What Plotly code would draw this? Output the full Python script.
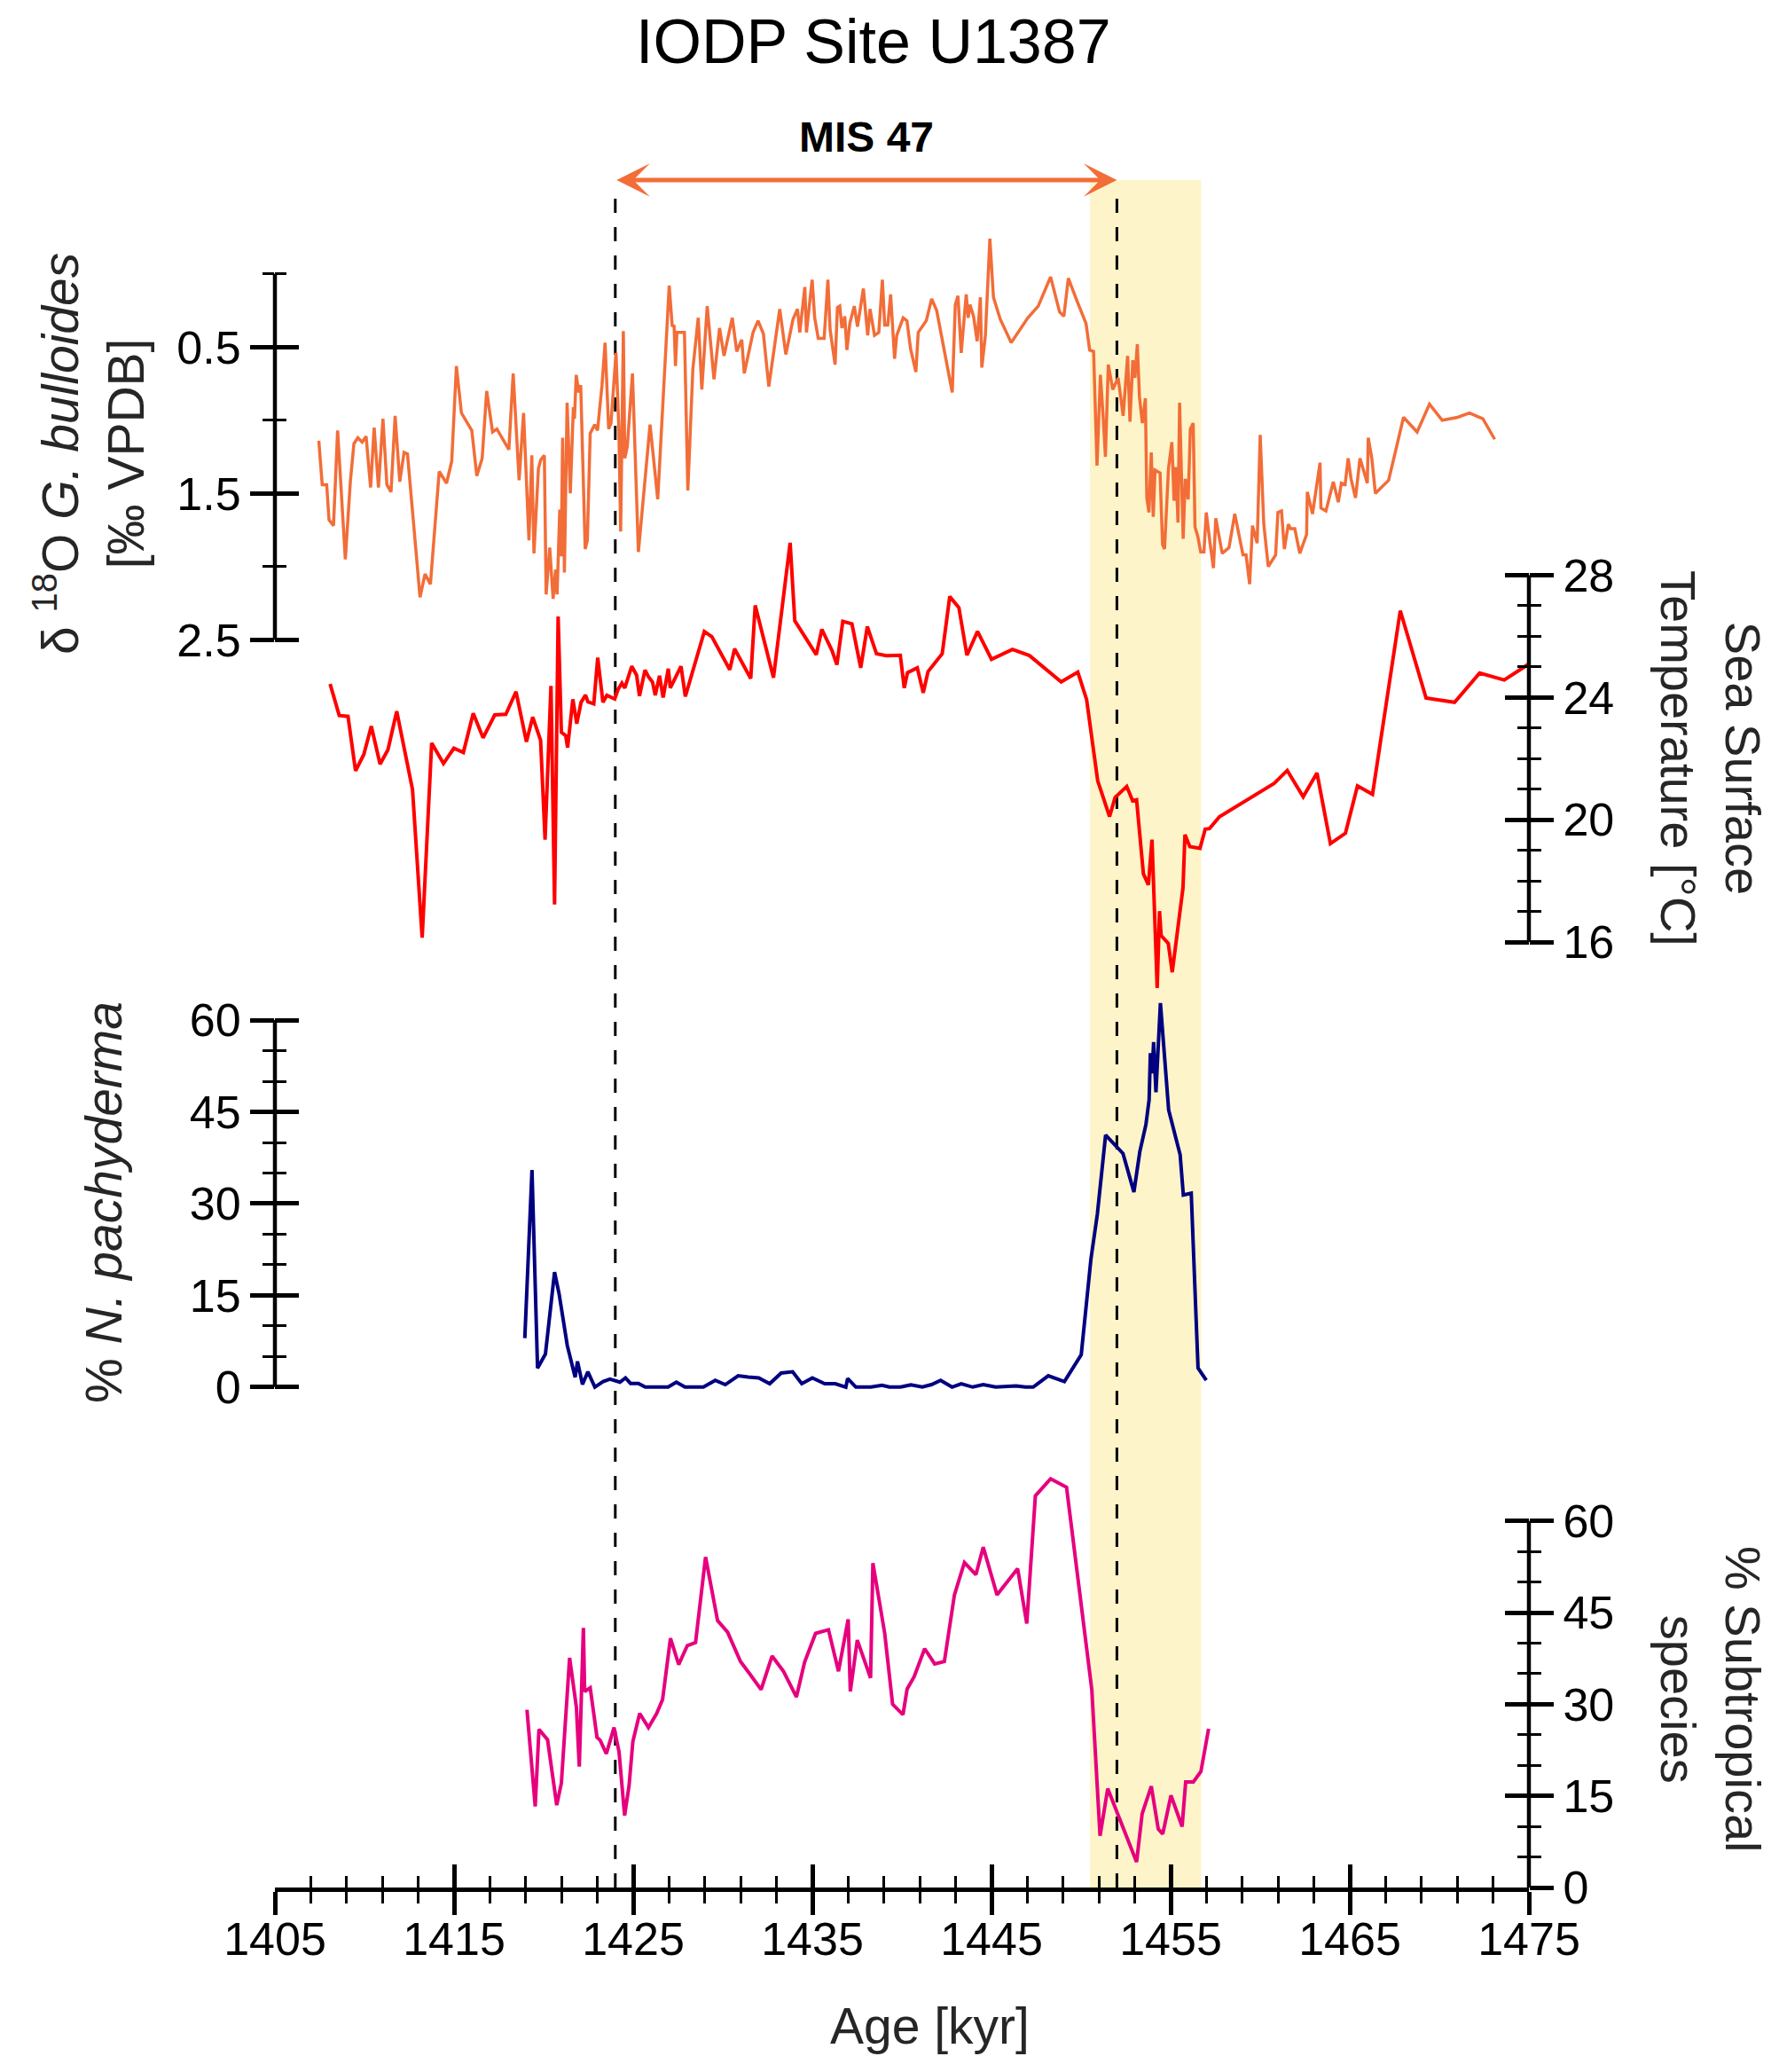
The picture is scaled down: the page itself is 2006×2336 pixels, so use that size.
import plotly.graph_objects as go

# ---- data ----
d18o_age = [1407.45, 1407.64, 1407.89, 1408.02, 1408.27, 1408.50, 1408.93, 1409.21, 1409.41, 1409.63,
            1409.87, 1410.09, 1410.34, 1410.54, 1410.78, 1411.03, 1411.25, 1411.48, 1411.71, 1411.97,
            1412.21, 1412.40, 1413.10, 1413.38, 1413.68, 1414.17, 1414.58, 1414.87, 1415.13, 1415.41,
            1415.99, 1416.27, 1416.57, 1416.82, 1417.15, 1417.39, 1418.06, 1418.30, 1418.63, 1418.88,
            1419.18, 1419.34, 1419.46, 1419.71, 1419.84, 1420.04, 1420.14, 1420.34, 1420.53, 1420.67,
            1420.75, 1420.90, 1420.98, 1421.06, 1421.16, 1421.31, 1421.49, 1421.66, 1421.72, 1421.82,
            1421.96, 1422.07, 1422.32, 1422.44, 1422.60, 1422.85, 1423.01, 1423.26, 1423.43, 1423.63,
            1423.76, 1424.04, 1424.20, 1424.30, 1424.45, 1424.53, 1424.67, 1424.96, 1425.29, 1425.94,
            1426.37, 1427.01, 1427.18, 1427.28, 1427.36, 1427.44, 1427.86, 1428.05, 1428.33, 1428.63,
            1428.83, 1429.13,
            1429.51, 1429.82, 1430.07, 1430.53, 1430.78, 1431.06, 1431.20, 1431.69, 1431.97, 1432.27,
            1432.57, 1433.18, 1433.52, 1433.92, 1434.17, 1434.30, 1434.58, 1434.67, 1434.99, 1435.13,
            1435.33, 1435.66, 1435.87, 1435.99, 1436.27, 1436.40, 1436.53, 1436.65, 1436.81, 1436.93,
            1437.09, 1437.34, 1437.52, 1437.85, 1438.09, 1438.22, 1438.47, 1438.71, 1438.91, 1439.04,
            1439.21, 1439.37, 1439.59, 1439.71, 1440.07, 1440.28, 1440.48, 1440.78, 1440.91, 1441.11,
            1441.36, 1441.66, 1441.94, 1442.81, 1442.98, 1443.13, 1443.31, 1443.59, 1443.70, 1443.80,
            1444.00, 1444.20, 1444.38, 1444.46, 1444.66, 1444.91, 1445.11, 1445.49, 1446.10, 1447.03,
            1447.61, 1448.30, 1448.80, 1449.04, 1449.29, 1449.79, 1450.28, 1450.48, 1450.70, 1450.89,
            1451.08,
            1451.24, 1451.36, 1451.52, 1451.77, 1452.07, 1452.35, 1452.60, 1452.73, 1452.89, 1453.01,
            1453.14, 1453.26, 1453.42, 1453.59, 1453.67, 1453.79, 1453.92, 1454.03, 1454.13, 1454.41,
            1454.55, 1454.66, 1454.88, 1455.07, 1455.19, 1455.29, 1455.41, 1455.50, 1455.70, 1455.82,
            1455.98, 1456.10, 1456.26, 1456.36, 1456.51, 1456.68, 1456.86, 1456.99, 1457.19, 1457.39,
            1457.52, 1457.88, 1458.26, 1458.58, 1459.04, 1459.21, 1459.41, 1459.57, 1459.83, 1460.00,
            1460.20, 1460.45, 1460.86, 1460.99, 1461.19, 1461.35, 1461.57, 1461.69, 1461.93, 1462.21,
            1462.59, 1462.63, 1462.92, 1463.34, 1463.39, 1463.67, 1464.08, 1464.36, 1464.53, 1464.74,
            1464.91, 1465.07, 1465.32, 1465.57, 1465.98, 1466.03, 1466.23, 1466.43, 1467.17, 1468.00,
            1468.76, 1469.45, 1470.16, 1471.02, 1471.68, 1472.43, 1473.09]
d18o_val = [1.14, 1.44, 1.44, 1.68, 1.72, 1.07, 1.95, 1.42, 1.16, 1.12,
            1.15, 1.11, 1.46, 1.05, 1.46, 0.99, 1.44, 1.49, 0.97, 1.42,
            1.22, 1.23, 2.21, 2.05, 2.12, 1.35, 1.43, 1.28, 0.63, 0.95,
            1.07, 1.38, 1.26, 0.80, 1.08, 1.06, 1.20, 0.68, 1.41, 0.95,
            1.82, 1.24, 1.91, 1.33, 1.27, 1.24, 2.19, 1.87, 2.22, 2.02,
            2.19, 1.61, 1.93, 1.12, 2.04, 0.88, 1.50, 0.91, 0.99, 0.69,
            0.81, 0.76, 1.88, 1.82, 1.09, 1.03, 1.07, 0.76, 0.47, 1.06,
            1.02, 0.54, 1.06, 1.76, 0.39, 1.26, 1.18, 0.68, 1.90, 1.03,
            1.54, 0.08, 0.36, 0.35, 0.63, 0.40, 0.40, 1.48, 0.65, 0.30,
            0.79, 0.22,
            0.72, 0.37, 0.56, 0.30, 0.53, 0.45, 0.68, 0.40, 0.32, 0.41,
            0.77, 0.24, 0.55, 0.31, 0.24, 0.40, 0.09, 0.40, 0.04, 0.30,
            0.44, 0.44, 0.04, 0.38, 0.62, 0.23, 0.22, 0.37, 0.29, 0.52,
            0.34, 0.22, 0.36, 0.10, 0.42, 0.24, 0.42, 0.40, 0.04, 0.35,
            0.35, 0.14, 0.58, 0.42, 0.30, 0.32, 0.51, 0.67, 0.40, 0.36,
            0.32, 0.17, 0.25, 0.81, 0.21, 0.15, 0.54, 0.14, 0.30, 0.21,
            0.29, 0.46, 0.16, 0.64, 0.42, -0.24, 0.16, 0.31, 0.47, 0.30,
            0.22, 0.02, 0.26, 0.29, 0.03, 0.19, 0.34, 0.52, 0.53, 1.31,
            0.69,
            0.99, 1.25, 0.62, 0.79, 0.71, 0.97, 0.56, 1.01, 0.59, 0.71,
            0.48, 0.84, 1.02, 0.85, 1.53, 1.63, 1.22, 1.66, 1.34, 1.36,
            1.85, 1.88, 1.33, 1.15, 1.55, 1.32, 1.70, 0.88, 1.81, 1.40,
            1.54, 1.06, 1.02, 1.73, 1.79, 1.90, 1.90, 1.63, 1.83, 2.01,
            1.67, 1.91, 1.87, 1.64, 1.92, 1.92, 2.12, 1.72, 1.84, 1.10,
            1.71, 2.00, 1.92, 1.63, 1.62, 1.88, 1.71, 1.74, 1.74, 1.91,
            1.78, 1.49, 1.64, 1.29, 1.60, 1.62, 1.42, 1.56, 1.43, 1.44,
            1.26, 1.40, 1.53, 1.26, 1.43, 1.12, 1.26, 1.50, 1.41, 0.98,
            1.08, 0.89, 1.00, 0.98, 0.95, 0.99, 1.13]

sst_age = [1408.08, 1408.59, 1409.08, 1409.50, 1409.96, 1410.38, 1410.87, 1411.31, 1411.80, 1412.68,
           1413.22, 1413.75, 1414.41, 1414.99, 1415.52, 1416.07, 1416.62, 1417.27, 1417.89, 1418.46,
           1419.04, 1419.39, 1419.83, 1420.08, 1420.41, 1420.61, 1420.81, 1420.99, 1421.23, 1421.34,
           1421.63, 1421.85, 1422.09, 1422.34, 1422.47, 1422.80, 1423.02, 1423.31, 1423.53, 1423.97,
           1424.15, 1424.37, 1424.53, 1424.77, 1424.92, 1425.19, 1425.35, 1425.66, 1425.85, 1426.08,
           1426.23, 1426.47, 1426.67, 1426.96, 1427.07, 1427.67, 1427.91, 1428.97, 1429.39, 1430.39,
           1430.66, 1431.56, 1431.81, 1432.83, 1433.76, 1434.02, 1435.22, 1435.53, 1436.10, 1436.37,
           1436.70, 1437.21, 1437.70, 1438.07, 1438.58, 1439.13, 1439.91, 1440.13, 1440.31, 1440.86,
           1441.19, 1441.46, 1442.25, 1442.67, 1443.18, 1443.63, 1444.22, 1445.00, 1446.17, 1447.12,
           1448.89, 1449.82, 1450.31, 1450.93, 1451.59, 1451.90, 1452.55, 1452.88, 1453.10, 1453.48,
           1453.76, 1453.96, 1454.25, 1454.38, 1454.47, 1454.87, 1455.09, 1455.69, 1455.80, 1456.07,
           1456.64, 1456.93, 1457.17, 1457.73, 1460.78, 1461.51, 1462.40, 1463.17, 1463.92, 1464.76,
           1465.43, 1466.27, 1467.82, 1469.26, 1470.85, 1472.25, 1473.62, 1474.98]
sst_val = [24.44, 23.41, 23.38, 21.60, 22.13, 23.06, 21.82, 22.29, 23.55, 20.99,
           16.14, 22.51, 21.84, 22.34, 22.20, 23.48, 22.68, 23.43, 23.45, 24.19,
           22.55, 23.36, 22.60, 19.35, 24.38, 17.23, 26.65, 22.86, 22.75, 22.36,
           23.94, 23.14, 23.84, 24.08, 23.86, 23.79, 25.30, 23.84, 24.07, 23.95,
           24.26, 24.47, 24.31, 24.70, 25.02, 24.73, 24.05, 24.90, 24.68, 24.50,
           24.07, 24.71, 24.00, 24.94, 24.31, 25.02, 24.03, 26.16, 25.99, 24.91,
           25.59, 24.62, 27.01, 24.65, 29.06, 26.51, 25.40, 26.23, 25.53, 25.07,
           26.49, 26.41, 24.97, 26.32, 25.43, 25.37, 25.38, 24.31, 24.81, 24.97,
           24.15, 24.85, 25.43, 27.30, 26.94, 25.38, 26.16, 25.25, 25.57, 25.37,
           24.51, 24.83, 23.93, 21.27, 20.10, 20.73, 21.09, 20.62, 20.65, 18.23,
           17.87, 19.35, 14.49, 17.01, 16.21, 15.95, 15.01, 17.77, 19.51, 19.12,
           19.06, 19.69, 19.71, 20.10, 21.19, 21.61, 20.75, 21.53, 19.22, 19.56,
           21.11, 20.83, 26.84, 23.98, 23.84, 24.80, 24.57, 25.09]

npac_age = [1418.95, 1419.35, 1419.66, 1420.10, 1420.61, 1420.86, 1421.32, 1421.76, 1421.89, 1422.17,
            1422.47, 1422.86, 1423.32, 1423.70, 1424.26, 1424.57, 1424.85, 1425.29, 1425.67, 1426.95,
            1427.41, 1427.89, 1428.92, 1429.58, 1430.14, 1430.86, 1431.42, 1432.01, 1432.62, 1433.26,
            1433.90, 1434.41, 1435.00, 1435.69, 1436.28, 1436.87, 1436.97, 1437.43, 1438.27, 1438.89,
            1439.30, 1439.91, 1440.50, 1441.14, 1441.65, 1442.16, 1442.80, 1443.31, 1443.95, 1444.54,
            1445.23, 1446.38, 1446.89, 1447.33, 1448.17, 1449.07, 1450.01, 1450.55, 1450.91, 1451.37,
            1452.34, 1452.95, 1453.28, 1453.62, 1453.80, 1453.87, 1453.97, 1454.05, 1454.18, 1454.43,
            1454.89, 1455.53, 1455.71, 1456.15, 1456.53, 1456.99]
npac_val = [8.0, 35.5, 3.1, 5.4, 18.8, 15.3, 6.8, 1.6, 4.2, 0.45,
            2.5, 0.0, 0.9, 1.3, 0.8, 1.5, 0.6, 0.6, 0.0, 0.0,
            0.8, 0.0, 0.0, 1.1, 0.4, 1.85, 1.65, 1.5, 0.55, 2.3,
            2.5, 0.55, 1.5, 0.55, 0.55, 0.0, 1.4, 0.0, 0.0, 0.3,
            0.0, 0.0, 0.35, 0.0, 0.4, 1.1, 0.0, 0.55, 0.0, 0.4,
            0.0, 0.2, 0.0, 0.0, 1.85, 0.9, 5.3, 20.9, 28.3, 41.2,
            38.2, 31.9, 38.5, 42.9, 47.0, 54.6, 51.3, 56.4, 48.2, 62.8,
            45.3, 38.0, 31.4, 31.7, 3.1, 1.1]

subt_age = [1419.07, 1419.53, 1419.74, 1420.22, 1420.73, 1420.99, 1421.45, 1421.83, 1421.99, 1422.22,
            1422.29, 1422.60, 1422.98, 1423.16, 1423.50, 1423.93, 1424.21, 1424.52, 1424.77, 1424.98,
            1425.36, 1425.85, 1426.31, 1426.64, 1427.08, 1427.54, 1428.02, 1428.48, 1429.04, 1429.71,
            1430.27, 1430.99, 1431.50, 1432.14, 1432.75, 1433.39, 1434.11, 1434.57, 1435.18, 1435.90,
            1436.46, 1437.00, 1437.12, 1437.51, 1438.25, 1438.38, 1439.04, 1439.48, 1440.06, 1440.29,
            1440.68, 1441.27, 1441.83, 1442.37, 1442.93, 1443.49, 1444.13, 1444.54, 1445.31, 1446.00,
            1446.46, 1446.97, 1447.45, 1448.30, 1449.19, 1450.60, 1451.06, 1451.49, 1452.13, 1453.10,
            1453.41, 1453.92, 1454.31, 1454.56, 1455.02, 1455.64, 1455.84, 1456.27, 1456.69, 1457.12]
subt_val = [29.1, 13.3, 25.9, 24.2, 13.5, 17.1, 37.6, 29.5, 19.8, 42.5,
            32.1, 32.7, 24.6, 24.1, 21.9, 26.2, 22.2, 11.8, 16.7, 23.9,
            28.5, 26.2, 28.5, 30.8, 40.8, 36.5, 39.6, 40.1, 54.1, 43.7,
            41.8, 37.0, 35.0, 32.4, 37.9, 35.4, 31.2, 36.9, 41.6, 42.2,
            35.4, 43.9, 32.1, 40.5, 34.3, 53.1, 41.6, 30.0, 28.3, 32.5,
            34.5, 39.1, 36.6, 37.0, 47.9, 53.2, 51.2, 55.7, 47.9, 50.5,
            52.2, 43.2, 64.1, 66.9, 65.5, 32.4, 8.5, 16.2, 11.3, 4.2,
            12.1, 16.6, 9.6, 8.8, 15.1, 10.0, 17.3, 17.3, 19.0, 26.0]

mis_bounds = [1424, 1452]
band = [1450.5, 1456.7]

d18o_ticks = [0.5, 1.5, 2.5]
d18o_minor = [0, 1, 2]
sst_ticks = [16, 20, 24, 28]
sst_minor = [17, 18, 19, 21, 22, 23, 25, 26, 27]
pct_ticks = [0, 15, 30, 45, 60]
pct_minor = [5, 10, 20, 25, 35, 40, 50, 55]

# ---- page geometry (pixels of the 2006x2336 page) ----
PAGE_W, PAGE_H = 2006, 2336
BODY = 8  # the html body margin shifts the figure by this much
W, H = PAGE_W - 2 * BODY, PAGE_H - 2 * BODY
L, R, T, B = 310, 1724, 100, 2128   # plot area on the page


def px_x(p):
    return (p - L) / (R - L)


def px_y(p):
    return (B - p) / (B - T)


def axis_range(v1, p1, v2, p2):
    s = (v2 - v1) / (p2 - p1)
    return [v1 + (B - p1) * s, v1 + (T - p1) * s]


FAMILY = "Liberation Sans, Arial"
TICKFONT = dict(family=FAMILY, size=52, color="black")
TITLEFONT = dict(family=FAMILY, size=57, color="#262626")
RTITLEFONT = dict(family=FAMILY, size=56, color="#262626")


def yax(rng, ticks, minor, side, twin=False, overlay=None):
    d = dict(range=rng, showline=False, zeroline=False, showgrid=False,
             tickmode="array", tickvals=ticks, ticktext=[str(t) for t in ticks],
             ticks="inside" if twin else "outside", ticklen=27, tickwidth=4.5,
             tickcolor="black", showticklabels=not twin, tickfont=TICKFONT,
             minor=dict(tickmode="array", tickvals=minor,
                        ticks="inside" if twin else "outside",
                        ticklen=13, tickwidth=2.5, tickcolor="black"),
             side=side, anchor="x", automargin=False, fixedrange=True)
    if overlay:
        d["overlaying"] = overlay
    return d


def label(text, px, py, font, angle=0):
    return dict(text=text, x=px_x(px), y=px_y(py), xref="paper", yref="paper",
                xanchor="center", yanchor="middle", textangle=angle,
                showarrow=False, font=font)


rng_d18o = axis_range(0.5, 391.3, 2.5, 721.3)
rng_sst = axis_range(28, 648.5, 16, 1062)
rng_np = axis_range(60, 1150.1, 0, 1563.8)
rng_st = axis_range(60, 1714.7, 0, 2128.2)

fig = go.Figure()

fig.add_trace(go.Scatter(x=d18o_age, y=d18o_val, mode="lines", yaxis="y",
                         line=dict(color="#F26D38", width=3.5)))
fig.add_trace(go.Scatter(x=sst_age, y=sst_val, mode="lines", yaxis="y2",
                         line=dict(color="#FF0000", width=4)))
fig.add_trace(go.Scatter(x=npac_age, y=npac_val, mode="lines", yaxis="y3",
                         line=dict(color="#000080", width=4)))
fig.add_trace(go.Scatter(x=subt_age, y=subt_val, mode="lines", yaxis="y4",
                         line=dict(color="#E6007E", width=4)))

# empty traces so the twin axes (crossing ticks) get drawn
for xa, ya in [("x2", "y"), ("x", "y5"), ("x", "y6"), ("x", "y7"), ("x", "y8")]:
    fig.add_trace(go.Scatter(x=[None], y=[None], xaxis=xa, yaxis=ya,
                             hoverinfo="skip", showlegend=False))

shapes = [
    dict(type="rect", xref="x", yref="paper", x0=band[0], x1=band[1],
         y0=0, y1=px_y(203), fillcolor="#FEF4C9", line=dict(width=0), layer="below"),
]
for b in mis_bounds:
    shapes.append(dict(type="line", xref="x", yref="paper", x0=b, x1=b,
                       y0=0, y1=px_y(213), layer="below",
                       line=dict(color="black", width=3, dash="16px,16px")))
# axis spines limited to the labelled span
for yref, xp, lo, hi in [("y", 0, 0, 2.5), ("y2", 1, 16, 28),
                         ("y3", 0, 0, 60), ("y4", 1, 0, 60)]:
    shapes.append(dict(type="line", xref="paper", yref=yref, x0=xp, x1=xp,
                       y0=lo, y1=hi, line=dict(color="black", width=4.5)))

annotations = [
    label("IODP Site U1387", 985, 47, dict(family=FAMILY, size=70, color="black")),
    dict(text="<b>MIS 47</b>", x=1438, y=px_y(155), xref="x", yref="paper",
         xanchor="center", yanchor="middle", showarrow=False,
         font=dict(family=FAMILY, size=48, color="black")),
    dict(x=mis_bounds[1], y=px_y(203), xref="x", yref="paper",
         ax=mis_bounds[0], ay=0, axref="x", ayref="pixel", text="",
         showarrow=True, arrowhead=3, startarrowhead=3, arrowside="end+start",
         arrowsize=1.25, startarrowsize=1.25, arrowwidth=5, arrowcolor="#F26D38"),
    label("δ <sup>18</sup>O <i>G. bulloides</i><br>[‰ VPDB]", 101, 512, TITLEFONT, -90),
    label("Sea Surface<br>Temperature [°C]", 1929, 855, RTITLEFONT, 90),
    label("% <i>N. pachyderma</i>", 117, 1356, TITLEFONT, -90),
    label("% Subtropical<br>species", 1929, 1916, RTITLEFONT, 90),
    label("Age [kyr]", 1048, 2284, TITLEFONT),
]

xbase = dict(range=[1405, 1475], showgrid=False, zeroline=False, fixedrange=True,
             tickmode="linear", tick0=1405, dtick=10, ticklen=26, tickwidth=4.5,
             tickcolor="black", tickfont=TICKFONT, anchor="y", side="bottom",
             automargin=False)

fig.update_layout(
    width=W, height=H, autosize=False,
    margin=dict(l=L - BODY, r=W - (R - BODY), t=T - BODY, b=H - (B - BODY), pad=0),
    paper_bgcolor="white", plot_bgcolor="white",
    showlegend=False,
    xaxis=dict(xbase, ticks="outside", showline=True, linewidth=4.5, linecolor="black",
               ticklabelstandoff=-17,
               minor=dict(dtick=2, tick0=1405, ticks="outside", ticklen=13,
                          tickwidth=2.5, tickcolor="black")),
    xaxis2=dict(xbase, ticks="inside", showline=False, showticklabels=False,
                overlaying="x",
                minor=dict(dtick=2, tick0=1405, ticks="inside", ticklen=13,
                           tickwidth=2.5, tickcolor="black")),
    yaxis=yax(rng_d18o, d18o_ticks, d18o_minor, "left"),
    yaxis2=yax(rng_sst, sst_ticks, sst_minor, "right", overlay="y"),
    yaxis3=yax(rng_np, pct_ticks, pct_minor, "left", overlay="y"),
    yaxis4=yax(rng_st, pct_ticks, pct_minor, "right", overlay="y"),
    yaxis5=yax(rng_d18o, d18o_ticks, d18o_minor, "left", twin=True, overlay="y"),
    yaxis6=yax(rng_sst, sst_ticks, sst_minor, "right", twin=True, overlay="y"),
    yaxis7=yax(rng_np, pct_ticks, pct_minor, "left", twin=True, overlay="y"),
    yaxis8=yax(rng_st, pct_ticks, pct_minor, "right", twin=True, overlay="y"),
    shapes=shapes,
    annotations=annotations,
)

fig.write_html("out.html")
